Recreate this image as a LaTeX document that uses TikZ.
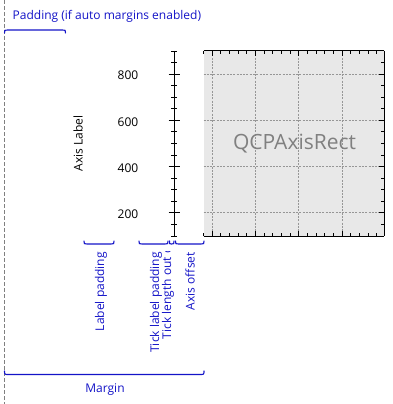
\documentclass[tikz,border=0pt]{standalone}
\usepackage{fontspec}
\setmainfont{Open Sans}
\definecolor{annot}{RGB}{20,20,200}
\definecolor{rectfill}{RGB}{232,232,232}
\definecolor{gridc}{RGB}{150,150,150}
\definecolor{labgray}{RGB}{128,128,128}
\begin{document}
\begin{tikzpicture}[x=1pt,y=-1pt,
  annotext/.style={text=annot, font=\fontsize{12}{14}\selectfont, inner sep=0pt},
  bracepath/.style={draw=annot, line width=1.1pt, line cap=round},
  ticklab/.style={font=\fontsize{12}{14}\selectfont, inner sep=0pt},
  gridline/.style={draw=gridc, line width=0.8pt, dash pattern=on 2pt off 1.3pt},
  axisline/.style={draw=black, line width=1pt},
  tickline/.style={draw=black, line width=1pt},
  ]
\useasboundingbox[fill=white] (0,0) rectangle (392,404);

% guide line
\draw[labgray, line width=0.8pt, dash pattern=on 4pt off 2pt] (4.5,0) -- (4.5,404);

% axis rect
\fill[rectfill] (203.5,51) rectangle (384,236);
% horizontal grid
\foreach \v in {200,400,600,800}{
  \pgfmathsetmacro\yy{236-(\v-100)*0.23125}
  \draw[gridline] (203.5,\yy) -- (384,\yy);
}
% vertical grid
\foreach \k in {0,1,2,3}{
  \pgfmathsetmacro\xx{212+43.333*\k}
  \draw[gridline] (\xx,51) -- (\xx,236);
}
\node[font=\fontsize{21}{24}\selectfont, text=labgray, inner sep=0pt] (rectlabel) at (294.5,144) {QCPAxisRect};

% top, right, bottom axes
\draw[axisline] (203.5,51) -- (384,51);
\draw[axisline] (384,51) -- (384,236);
\draw[axisline] (203.5,236) -- (384,236);
\foreach \j in {-1,...,19}{
  \pgfmathsetmacro\xx{212+8.6667*\j}
  \pgfmathsetmacro\len{ifthenelse(mod(\j+5,5)==0,5,3)}
  \draw[tickline] (\xx,51) -- ++(0,\len);
  \draw[tickline] (\xx,236) -- ++(0,-\len);
}
\foreach \v in {150,200,...,850}{
  \pgfmathsetmacro\yy{236-(\v-100)*0.23125}
  \pgfmathsetmacro\len{ifthenelse(mod(\v,200)==0,5,3)}
  \draw[tickline] (384,\yy) -- ++(-\len,0);
}

% left axis
\draw[axisline] (174,51) -- (174,236);
\foreach \v in {100,150,250,300,350,450,500,550,650,700,750,850,900}{
  \pgfmathsetmacro\yy{236-(\v-100)*0.23125}
  \draw[tickline] (171,\yy) -- (177,\yy);
}
\foreach \v in {200,400,600,800}{
  \pgfmathsetmacro\yy{236-(\v-100)*0.23125}
  \draw[tickline] (168.5,\yy) -- (179.5,\yy);
  \node[ticklab, anchor=east] (tl\v) at (138.5,\yy+1.5) {\v};
}
\node[ticklab, rotate=90] (axislabel) at (78,143.5) {Axis Label};

% top padding annotation
\node[annotext, anchor=west] (padtext) at (12.5,16) {Padding (if auto margins enabled)};
\draw[bracepath] (4.5,33) .. controls (4.5,30) .. (7.5,30) -- (62.5,30) .. controls (65.5,30) .. (65.5,33);

% lower braces (ends up)
\draw[bracepath] (84,241) .. controls (84,244) .. (87,244) -- (111,244) .. controls (114,244) .. (114,241);
\draw[bracepath] (139,241) .. controls (139,244) .. (142,244) -- (165,244) .. controls (168,244) .. (168,241);
\draw[bracepath] (169.5,241) .. controls (169.5,244) .. (171.5,244) .. controls (174,244) .. (174,241);
\draw[bracepath] (175.5,241) .. controls (175.5,244) .. (178.5,244) -- (201,244) .. controls (204,244) .. (204,241);

\node[annotext, rotate=90, anchor=east] (lpad) at (101,252) {Label padding};
\node[annotext, rotate=90, anchor=east] (tlpad) at (156,252) {Tick label padding};
\begin{scope}
  \clip (160,251.5) rectangle (176,404);
  \node[annotext, rotate=90, anchor=east] (tlen) at (168,248) {Tick length out c};
\end{scope}
\node[annotext, rotate=90, anchor=east] (aoff) at (190,252) {Axis offset};

% margin
\draw[bracepath] (4.5,371) .. controls (4.5,374.5) .. (9,374.5) -- (199.5,374.5) .. controls (204,374.5) .. (204,371);
\node[annotext] (margintext) at (105,390) {Margin};
\end{tikzpicture}
\end{document}
